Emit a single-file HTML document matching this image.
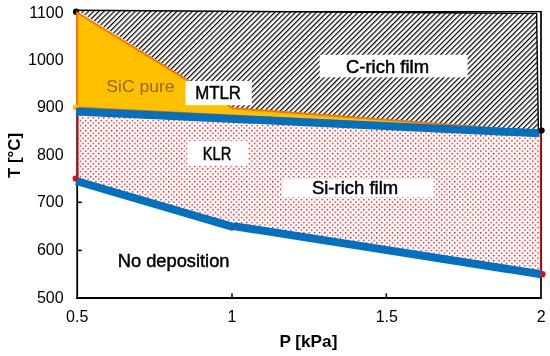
<!DOCTYPE html>
<html><head><meta charset="utf-8"><title>SiC deposition diagram</title>
<style>
html,body{margin:0;padding:0;background:#fff;width:550px;height:356px;overflow:hidden}
svg{display:block}
text{font-family:"Liberation Sans",Arial,sans-serif}
</style></head>
<body>
<svg width="550" height="356" viewBox="0 0 550 356">
<defs>
<pattern id="hatch" patternUnits="userSpaceOnUse" width="3.68" height="10" patternTransform="rotate(45)">
<rect x="0" y="0" width="3.68" height="10" fill="#fff"/>
<rect x="0" y="0" width="1.2" height="10" fill="#000"/>
</pattern>
<pattern id="dots" patternUnits="userSpaceOnUse" width="5.2" height="5.1">
<rect x="0" y="0" width="5.2" height="5.1" fill="#fff"/>
<circle cx="2.4" cy="3.2" r="0.78" fill="#ff0000"/>
<circle cx="5.0" cy="0.65" r="0.78" fill="#ff0000"/>
<circle cx="-0.2" cy="0.65" r="0.78" fill="#ff0000"/>
<circle cx="5.0" cy="5.75" r="0.78" fill="#ff0000"/>
<circle cx="-0.2" cy="5.75" r="0.78" fill="#ff0000"/>
</pattern>
</defs>
<rect width="550" height="356" fill="#fff"/>

<!-- axes -->
<g stroke="#000" fill="none">
<line x1="77.2" y1="12" x2="77.2" y2="299" stroke-width="1.8"/>
<line x1="76.3" y1="298" x2="541.8" y2="298" stroke-width="1.9"/>
<line x1="541" y1="11.5" x2="541" y2="298" stroke-width="1.7"/>
<line x1="300" y1="11.7" x2="541.8" y2="11.7" stroke-width="1.2"/>
<!-- y ticks -->
<g stroke-width="1.5">
<line x1="77" y1="59.6" x2="81.8" y2="59.6"/>
<line x1="77" y1="107.2" x2="81.8" y2="107.2"/>
<line x1="77" y1="154.7" x2="81.8" y2="154.7"/>
<line x1="77" y1="202.3" x2="81.8" y2="202.3"/>
<line x1="77" y1="250.4" x2="81.8" y2="250.4"/>
<!-- x ticks -->
<line x1="232" y1="293.3" x2="232" y2="298"/>
<line x1="386.3" y1="293.3" x2="386.3" y2="298"/>
</g>
</g>

<!-- hatched C-rich region -->
<circle cx="76.1" cy="11.8" r="3.2" fill="#000"/>
<polygon points="77,10.2 536.6,13.4 538.4,131 233,108.2" fill="url(#hatch)"/>
<polyline points="77,10.2 536.6,13.4 538.4,131" fill="none" stroke="#000" stroke-width="1.4"/>

<!-- orange SiC pure region -->
<polygon points="77,12.5 233,108.2 541,131.5 77,107.5" fill="#ffc000" stroke="#ff7000" stroke-width="2" stroke-linejoin="round"/>

<!-- dotted Si-rich region -->
<polygon points="77.9,111.4 540.5,133.3 540.5,273.5 233,226.3 77.9,178.3" fill="url(#dots)" stroke="#ff0000" stroke-width="1.3"/>

<!-- markers under lines -->
<circle cx="75.7" cy="107.6" r="3" fill="#ffc000"/>
<circle cx="75.7" cy="178.5" r="3.1" fill="#ff0000"/>
<circle cx="232.3" cy="227.4" r="3" fill="#ff0000"/>
<circle cx="542.5" cy="274.2" r="3.1" fill="#ff0000"/>

<!-- blue boundary lines -->
<g stroke="#0070c0" stroke-width="8" fill="none">
<line x1="76" y1="111.4" x2="539.5" y2="133.3"/>
<line x1="76.2" y1="181" x2="232.9" y2="226.9"/>
<line x1="233.5" y1="226.1" x2="541" y2="274.2"/>
</g>

<!-- top markers -->
<circle cx="541.7" cy="130.5" r="3" fill="#000"/>

<!-- label boxes -->
<g fill="#fff">
<rect x="319.7" y="54.8" width="147.9" height="22.5"/>
<rect x="185.5" y="81" width="66.3" height="24.2"/>
<rect x="187.3" y="140.9" width="60.9" height="24.6"/>
<rect x="282.5" y="178.6" width="151.1" height="18.6"/>
</g>
<g fill="#000" font-size="17.7" stroke="#000" stroke-width="0.45">
<text x="346" y="73" textLength="83" lengthAdjust="spacingAndGlyphs">C-rich film</text>
<text x="195.2" y="98.9" textLength="45.8" lengthAdjust="spacingAndGlyphs">MTLR</text>
<text x="202.8" y="160.4" textLength="28.6" lengthAdjust="spacingAndGlyphs">KLR</text>
<text x="311.9" y="193.6" textLength="86.3" lengthAdjust="spacingAndGlyphs">Si-rich film</text>
<text x="117.7" y="267.3" textLength="111.8" lengthAdjust="spacingAndGlyphs">No deposition</text>
</g>
<text x="106.3" y="91.5" font-size="17" fill="#93680f" textLength="68.2" lengthAdjust="spacingAndGlyphs">SiC pure</text>

<!-- tick labels -->
<g font-size="16" fill="#000" text-anchor="end">
<text x="63.6" y="17.5">1100</text>
<text x="63.6" y="64.9">1000</text>
<text x="63.6" y="112.2">900</text>
<text x="63.6" y="159.8">800</text>
<text x="63.6" y="207.4">700</text>
<text x="63.6" y="255.0">600</text>
<text x="63.6" y="302.6">500</text>
</g>
<g font-size="16" fill="#000" text-anchor="middle">
<text x="77.2" y="322">0.5</text>
<text x="232" y="322">1</text>
<text x="386.8" y="322">1.5</text>
<text x="541.2" y="322">2</text>
</g>
<text x="279.4" y="346.7" font-size="16.5" font-weight="bold" textLength="58" lengthAdjust="spacingAndGlyphs">P [kPa]</text>
<text transform="translate(19.6,178) rotate(-90)" font-size="17" font-weight="bold" textLength="45" lengthAdjust="spacingAndGlyphs">T [°C]</text>
</svg>
</body></html>
